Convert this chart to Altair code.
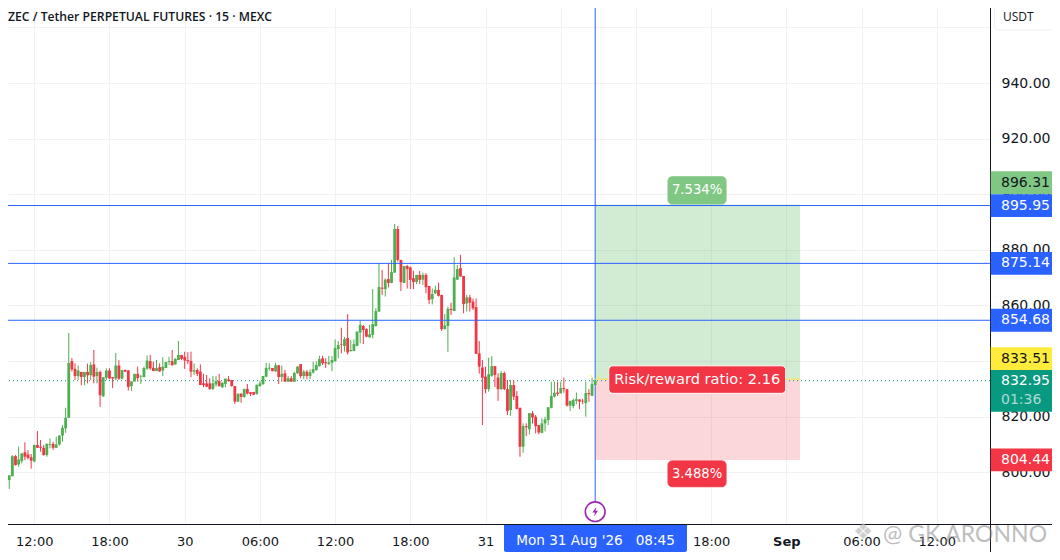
import altair as alt
import pandas as pd

# Candle times: hours after 29 Aug 12:00, one candle per 15 minutes
first_candle_quarter = -11
opens = [794.0,793.0,796.6,797.2,798.6,805.8,802.8,804.0,807.2,806.4,805.4,803.9,809.8,809.2,808.8,806.2,809.9,810.2,808.8,810.0,813.2,815.8,819.6,
840.0,837.2,834.6,836.1,834.3,836.1,834.9,838.8,834.6,836.1,827.3,834.0,836.6,834.2,833.7,838.4,833.7,836.8,836.6,831.0,832.7,835.4,834.4,834.2,837.3,840.0,837.6,836.4,837.8,836.6,837.5,839.7,840.0,838.8,840.4,842.2,841.5,840.4,840.0,836.2,836.8,836.2,832.0,832.0,832.0,830.0,831.6,832.8,830.6,831.8,833.4,833.2,831.0,825.4,828.3,827.1,830.0,828.8,828.9,828.2,831.0,831.8,834.4,837.3,837.5,836.3,838.5,834.3,835.6,832.6,833.8,832.6,835.6,
838.9,834.6,836.2,834.6,835.9,836.8,838.2,841.0,839.6,839.0,839.4,840.0,844.3,846.0,845.4,848.3,843.6,843.6,845.4,850.3,852.6,851.5,848.6,849.4,852.6,857.8,866.4,865.9,869.5,868.1,871.8,887.5,876.4,868.1,874.2,873.7,869.8,868.5,871.0,869.3,871.0,867.0,862.3,864.4,865.6,863.8,851.5,852.6,858.8,858.0,869.3,873.4,870.6,860.7,862.9,861.4,859.4,842.8,837.7,834.4,829.9,834.7,838.2,834.1,829.9,835.7,829.9,822.4,831.4,827.4,823.2,809.2,816.6,815.5,821.2,820.0,817.0,814.2,817.6,818.8,823.2,827.2,828.7,828.4,830.3,829.9,824.0,823.8,825.7,826.2,825.7,824.9,828.5,827.5,831.4]
closes = [793.0,796.6,797.6,798.9,805.8,802.6,804.6,806.8,805.6,805.2,804.2,809.8,808.8,808.8,806.2,810.2,810.2,808.8,810.0,813.2,816.0,819.6,839.3,
837.0,834.6,836.6,834.3,836.1,834.9,838.6,834.4,836.1,827.7,834.2,836.6,833.7,833.7,838.4,833.7,836.8,836.2,830.7,832.7,835.4,833.9,834.6,837.5,840.2,837.4,836.4,837.5,836.3,838.0,839.7,840.0,838.5,840.8,842.2,840.8,840.2,840.0,836.2,836.7,835.4,831.4,831.4,830.8,830.0,832.0,832.8,831.0,832.2,833.7,832.8,831.0,825.4,828.3,827.1,830.0,828.3,828.2,827.9,831.5,832.0,834.6,837.5,837.6,836.4,838.5,834.3,835.4,832.6,833.8,832.6,835.7,838.0,
834.6,836.2,834.6,836.0,837.1,838.6,840.7,839.2,839.2,839.5,840.4,844.7,845.8,845.8,847.9,843.1,844.0,846.1,850.6,853.0,851.2,848.8,849.6,853.3,858.0,866.6,866.0,869.3,868.1,872.0,887.5,876.4,868.4,874.2,873.1,869.2,868.4,871.0,869.2,871.0,866.6,862.0,864.1,865.6,863.5,851.5,852.8,858.8,858.4,870.1,873.1,870.4,860.5,862.9,861.0,859.0,842.6,838.0,834.0,829.9,835.3,838.2,835.0,829.9,835.7,829.9,822.0,831.4,827.2,822.8,809.2,816.6,816.2,821.3,819.7,816.6,814.3,817.6,819.0,823.4,827.4,828.6,828.2,830.3,829.9,824.0,825.7,826.0,826.3,825.4,825.5,828.5,828.1,831.7,832.95]
highs = [794.0,798.4,799.4,798.9,806.2,806.2,809.2,806.8,810.8,808.0,806.6,810.0,814.8,811.6,809.8,810.4,812.2,811.0,812.8,813.4,817.0,823.2,850.1,
841.1,839.2,838.4,836.1,836.1,839.1,839.6,844.0,837.6,836.6,834.2,837.4,837.4,834.2,842.9,840.3,836.8,837.0,836.8,832.7,835.4,838.0,835.0,838.0,842.0,842.2,839.8,840.4,839.2,841.4,839.7,841.6,844.0,841.0,847.2,842.2,843.4,843.2,843.4,839.2,837.4,838.8,835.4,835.0,833.8,834.6,834.6,835.4,832.5,833.7,834.6,833.2,831.0,828.3,828.3,830.0,831.8,828.8,828.9,831.5,833.0,834.6,839.4,839.2,837.5,839.4,838.5,838.4,836.8,834.6,834.6,836.1,838.2,
838.9,836.8,836.8,837.0,839.8,840.0,841.9,841.9,841.0,841.9,841.8,847.8,847.2,852.0,848.7,856.9,847.6,847.8,850.6,854.5,853.0,851.8,853.0,865.9,859.0,875.2,872.8,869.8,875.2,876.4,889.3,888.6,876.4,874.2,874.6,874.0,872.5,871.0,872.4,871.8,871.6,867.0,866.1,867.1,868.2,863.8,856.9,859.6,861.0,877.4,874.6,878.2,870.6,863.8,863.8,862.5,862.5,847.2,840.4,838.0,841.2,841.8,838.2,835.6,836.4,836.2,833.2,833.2,833.2,829.2,823.2,817.6,817.6,821.3,822.0,820.6,817.0,819.4,820.0,823.4,832.6,832.6,832.6,832.6,834.1,829.9,825.7,826.6,828.7,826.2,826.5,832.6,829.9,833.9,832.95]
lows = [792.6,791.8,795.2,794.0,798.6,802.4,802.0,803.2,804.4,804.6,801.3,803.6,808.8,807.4,806.0,805.6,808.6,808.0,808.8,809.6,811.0,814.2,819.6,
836.2,833.2,833.2,831.3,831.3,832.0,833.2,832.0,832.0,823.5,827.1,833.2,833.6,830.3,833.2,833.2,833.4,836.1,829.4,829.2,832.6,832.6,831.8,834.2,836.8,836.8,836.4,836.4,836.1,834.6,837.5,838.6,838.4,838.6,840.4,840.4,837.2,839.0,834.2,835.0,834.6,831.4,830.6,830.6,829.6,829.6,830.8,830.8,830.3,830.6,832.6,830.8,824.6,825.4,825.0,826.8,828.0,827.4,827.7,827.9,830.8,831.4,834.2,836.6,836.3,836.1,831.8,832.6,832.5,832.5,832.5,832.5,835.4,
833.8,833.4,833.4,833.5,835.5,836.5,838.0,838.6,837.5,838.6,836.4,839.7,841.0,842.8,843.4,842.4,843.4,843.6,845.4,846.4,846.1,848.5,848.4,848.2,852.4,857.8,863.8,863.2,866.5,868.0,871.8,875.8,865.2,868.1,866.1,865.9,865.9,867.7,867.7,867.4,864.4,860.5,860.4,864.1,863.2,850.8,851.4,843.3,856.6,858.0,869.2,870.4,857.2,857.8,857.8,858.4,842.6,835.5,817.0,828.4,829.0,834.4,830.7,825.7,829.6,829.6,820.6,820.3,826.0,822.6,805.6,807.0,813.0,813.6,817.6,814.0,813.7,814.0,814.7,817.0,823.0,826.9,827.4,828.4,828.6,823.6,822.1,823.0,824.5,822.7,824.5,820.0,825.4,827.5,831.4]

x_ticks = [0,6,12,18,24,30,36,42,48,54,60,66,72]
x_labels = ["12:00","18:00","30","06:00","12:00","18:00","31","","","18:00","Sep","06:00","12:00"]
y_ticks = [800,820,840,860,880,900,920,940,960]
level_prices = [895.95,875.14,854.68]
last_price = 832.95
entry_price = 833.51
target_price = 896.31
stop_price = 804.44
signal_hour = 44.75
tool_end_hour = 61.1
tags = [("896.31",904.2,"#81c784","#131722"),("895.95",895.95,"#2962ff","#ffffff"),
        ("875.14",875.14,"#2962ff","#ffffff"),("854.68",854.68,"#2962ff","#ffffff"),
        ("833.51",840.9,"#ffeb3b","#131722"),("804.44",804.44,"#f23645","#ffffff")]

FONT = "DejaVu Sans"
UP, DOWN, INK = "#089981", "#f23645", "#131722"
hours = [(first_candle_quarter + i) * 0.25 for i in range(len(opens))]
df = pd.DataFrame({"h": hours, "o": opens, "c": closes, "hi": highs, "lo": lows})
df["dir"] = ["up" if c >= o else "down" for o, c in zip(opens, closes)]

xaxis = alt.Axis(values=x_ticks, grid=True, gridColor="#f0f1f4", ticks=False, domain=False,
                 labelExpr="[" + ",".join(f"'{s}'" for s in x_labels) + "][datum.value/6]",
                 labelFont=FONT, labelFontSize=13, labelColor=INK, labelPadding=11, labelAngle=0,
                 labelOverlap=False, labelFlush=False, labelBound=False, title=None,
                 labelFontWeight={"condition": {"test": "datum.value==60", "value": "bold"}, "value": "normal"})
yaxis = alt.Axis(values=y_ticks, orient="right", grid=True, gridColor="#f0f1f4", ticks=False, domain=False,
                 labelExpr="datum.value>950||datum.value==840?'':format(datum.value,'.2f')",
                 labelFont=FONT, labelFontSize=14, labelColor=INK, labelPadding=11, title=None,
                 labelOverlap=False, labelFlush=False, labelBound=False)
xs = alt.Scale(domain=[-2.098, 76.25], nice=False, zero=False, padding=0)
ys = alt.Scale(domain=[781.4, 967.0], nice=False, zero=False, padding=0)
X = lambda f, **k: alt.X(f, type="quantitative", scale=xs, axis=xaxis, **k)
Y = lambda f, **k: alt.Y(f, type="quantitative", scale=ys, axis=yaxis, **k)
col = alt.Color("dir:N", scale=alt.Scale(domain=["up", "down"], range=[UP, DOWN]), legend=None)
one = pd.DataFrame({"a": [0]})
sig = pd.DataFrame({"x": [signal_hour]})

layers = []
# crosshair
layers.append(alt.Chart(sig).mark_rule(color="#2962ff", strokeWidth=1).encode(
    x=X("x"), y=alt.value(0), y2=alt.value(495)))
# position tool
zones = pd.DataFrame({"x": [signal_hour, signal_hour], "x2": [tool_end_hour, tool_end_hour],
                      "y": [entry_price, entry_price], "y2": [target_price, stop_price], "k": ["up", "down"]})
layers.append(alt.Chart(zones).mark_rect().encode(
    x=X("x"), x2="x2", y=Y("y"), y2="y2",
    color=alt.Color("k:N", scale=alt.Scale(domain=["up", "down"], range=["#4caf50", "#f23645"]), legend=None),
    opacity=alt.Opacity("k:N", scale=alt.Scale(domain=["up", "down"], range=[0.25, 0.2]), legend=None)))
layers.append(alt.Chart(pd.DataFrame({"x": [signal_hour], "x2": [tool_end_hour], "y": [entry_price]})).mark_rule(
    color="#ffeb3b", strokeWidth=1).encode(x=X("x"), x2="x2", y=Y("y")))
# last price
layers.append(alt.Chart(pd.DataFrame({"y": [last_price]})).mark_rule(color=UP, strokeWidth=1, strokeDash=[1, 3]).encode(y=Y("y")))
# candles
layers.append(alt.Chart(df).mark_rule(strokeWidth=1).encode(x=X("h"), y=Y("lo"), y2="hi", color=col))
layers.append(alt.Chart(df).mark_bar(size=2.8).encode(x=X("h"), y=Y("o"), y2="c", color=col))
# small entry ticks beside the last candle
ticks = pd.DataFrame({"x": [44.34, 45.15], "x2": [44.55, 44.94], "y": [835.0, 835.0], "y2": [834.0, 834.0]})
layers.append(alt.Chart(ticks).mark_rule(color="#ffeb3b", strokeWidth=1).encode(x=X("x"), x2="x2", y=Y("y"), y2="y2"))
# levels
layers.append(alt.Chart(pd.DataFrame({"y": level_prices})).mark_rule(color="#2962ff", strokeWidth=1).encode(y=Y("y")))

# position tool labels
badges = pd.DataFrame({"x": [50.56, 45.83, 50.56], "x2": [55.19, 59.95, 55.19],
                       "y": [896.5, 828.4, 794.8], "y2": [906.3, 838.3, 804.1],
                       "tx": [52.88, 52.89, 52.88], "ty": [901.4, 833.35, 799.45],
                       "t": ["7.534%", "Risk/reward ratio: 2.16", "3.488%"], "s": [13.2, 14.6, 13.2],
                       "fill": ["#81c784", "#f23645", "#f23645"], "line": ["#81c784", "#ffffff", "#f23645"]})
layers.append(alt.Chart(badges).mark_rect(cornerRadius=4, strokeWidth=1).encode(
    x=X("x"), x2="x2", y=Y("y"), y2="y2",
    fill=alt.Fill("fill:N", scale=None), stroke=alt.Stroke("line:N", scale=None)))
layers.append(alt.Chart(badges).mark_text(font=FONT, color="#ffffff").encode(
    x=X("tx"), y=Y("ty"), text="t:N", size=alt.Size("s:Q", scale=None, legend=None)))

# signal marker
layers.append(alt.Chart(sig).mark_point(shape="circle", size=390, fill="#ffffff", filled=True, stroke="#9c27b0",
                                        strokeWidth=1.6, opacity=1).encode(
    x=X("x"), y=alt.value(503.7)))
layers.append(alt.Chart(sig).mark_point(
    shape="M0.25,-1 L-0.6,0.15 L-0.05,0.15 L-0.25,1 L0.6,-0.2 L0.05,-0.2 Z", size=90, filled=True,
    fill="#9c27b0", stroke="#9c27b0", strokeWidth=0, opacity=1).encode(
    x=X("x"), y=alt.value(503.7)))

# axis frames
layers.append(alt.Chart(one).mark_rule(color=INK, strokeWidth=1).encode(
    x=alt.value(0), x2=alt.value(1044), y=alt.value(516.5)))
layers.append(alt.Chart(one).mark_rule(color=INK, strokeWidth=1).encode(
    x=alt.value(982.5), y=alt.value(0), y2=alt.value(544)))

# watermark
layers.append(alt.Chart(pd.DataFrame({"t": ["@ GK ARONNO"]})).mark_text(
    font="Lato", fontSize=23, color="#8a8a8a", opacity=0.55, align="left", baseline="middle").encode(
    x=alt.value(875), y=alt.value(527), text="t:N"))
layers.append(alt.Chart(pd.DataFrame({"t": ["\u2756"]})).mark_text(
    font=FONT, fontSize=22, color="#bdbdbd", opacity=0.7, baseline="middle").encode(
    x=alt.value(855), y=alt.value(524), text="t:N"))

# price tags
tag_df = pd.DataFrame(tags, columns=["t", "p", "fill", "ink"])
tag_df["y"] = tag_df["p"] - 4.1
tag_df["y2"] = tag_df["p"] + 4.1
layers.append(alt.Chart(tag_df).mark_rect().encode(
    x=alt.value(982.7), x2=alt.value(1044), y=Y("y"), y2="y2", fill=alt.Fill("fill:N", scale=None)))
layers.append(alt.Chart(tag_df).mark_text(font=FONT, fontSize=14, align="left").encode(
    x=alt.value(993), y=Y("p"), text="t:N", color=alt.Color("ink:N", scale=None)))
# last price tag with timer
layers.append(alt.Chart(pd.DataFrame({"y": [821.8], "y2": [836.8]})).mark_rect(fill=UP).encode(
    x=alt.value(982.7), x2=alt.value(1044), y=Y("y"), y2="y2"))
layers.append(alt.Chart(pd.DataFrame({"y": [last_price], "t": [f"{last_price:.2f}"]})).mark_text(
    font=FONT, fontSize=14, align="left", color="#ffffff").encode(x=alt.value(993), y=Y("y"), text="t:N"))
layers.append(alt.Chart(pd.DataFrame({"y": [826.0], "t": ["01:36"]})).mark_text(
    font=FONT, fontSize=14, align="left", color="#ffffff", opacity=0.65).encode(x=alt.value(993), y=Y("y"), text="t:N"))

# time tag
layers.append(alt.Chart(one).mark_rect(fill="#2962ff", cornerRadiusBottomLeft=2, cornerRadiusBottomRight=2).encode(
    x=alt.value(496), x2=alt.value(679), y=alt.value(517), y2=alt.value(544)))
layers.append(alt.Chart(pd.DataFrame({"t": ["Mon 31 Aug '26\u00a0\u00a0\u00a008:45"]})).mark_text(
    font=FONT, fontSize=13.6, color="#ffffff").encode(x=alt.value(587.5), y=alt.value(532.5), text="t:N"))

# title and currency button
layers.append(alt.Chart(pd.DataFrame({"t": ["ZEC / Tether PERPETUAL FUTURES \u00b7 15 \u00b7 MEXC"]})).mark_text(
    font="Open Sans", fontSize=12.2, fontWeight=600, color=INK, align="left").encode(
    x=alt.value(0), y=alt.value(8.5), text="t:N"))
layers.append(alt.Chart(one).mark_rect(fill="#ffffff", stroke="#eceef3", cornerRadius=4).encode(
    x=alt.value(986.5), x2=alt.value(1048), y=alt.value(-4), y2=alt.value(22)))
layers.append(alt.Chart(pd.DataFrame({"t": ["USDT"]})).mark_text(
    font="Open Sans", fontSize=12, color=INK, align="left").encode(x=alt.value(995), y=alt.value(9), text="t:N"))

chart = alt.layer(*layers).properties(
    width=982, height=516,
    padding={"left": 0, "top": 0, "right": 62, "bottom": 28},
    autosize=alt.AutoSizeParams(type="none"),
    background="#ffffff",
).configure_view(stroke=None)
chart.save("out.html", embed_options={"renderer": "svg", "actions": False})
